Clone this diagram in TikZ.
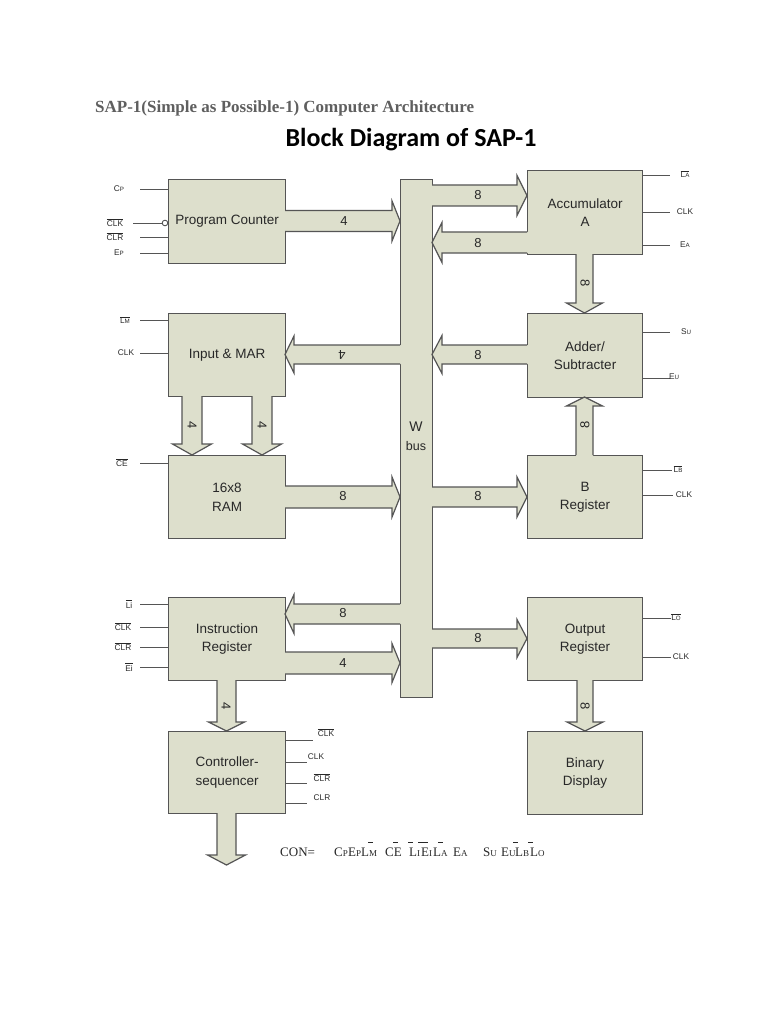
\documentclass[tikz,border=0pt]{standalone}
\usepackage{fontspec}
\setmainfont{Liberation Sans}
\newfontfamily\serifT{Liberation Serif}
\newfontfamily\calib{Carlito}
\definecolor{boxfill}{RGB}{221,223,204}
\definecolor{edge}{RGB}{85,85,85}
\definecolor{txt}{RGB}{40,40,40}
\definecolor{ttlgray}{RGB}{95,95,95}
\newcommand\ssb[1]{{\fontsize{6.2}{6}\selectfont #1}}
\newcommand\csb[1]{{\fontsize{9}{9}\selectfont #1}}
\newcommand\ovl[1]{$\overline{\mbox{#1}}$}
\newcommand\blkH[7]{%
 \fill[bfill] (#1,#5-#6) -- (#3,#5-#6) -- (#3,#5-#7) -- (#4,#5) -- (#3,#5+#7) -- (#3,#5+#6) -- (#1,#5+#6) -- cycle;
 \draw[bline] (#2,#5-#6) -- (#3,#5-#6) -- (#3,#5-#7) -- (#4,#5) -- (#3,#5+#7) -- (#3,#5+#6) -- (#2,#5+#6);}
\newcommand\blkV[7]{%
 \fill[bfill] (#5-#6,#1) -- (#5-#6,#3) -- (#5-#7,#3) -- (#5,#4) -- (#5+#7,#3) -- (#5+#6,#3) -- (#5+#6,#1) -- cycle;
 \draw[bline] (#5-#6,#2) -- (#5-#6,#3) -- (#5-#7,#3) -- (#5,#4) -- (#5+#7,#3) -- (#5+#6,#3) -- (#5+#6,#2);}
\tikzset{
 blk/.style={fill=boxfill, draw=edge, line width=1.2pt, inner sep=0pt, anchor=north west,
   font=\fontsize{13.5}{18.5}\selectfont, text=txt, align=center},
 bfill/.style={fill=boxfill},
 bline/.style={draw=edge, line width=1.2pt, line join=miter},
 wlabel/.style={font=\fontsize{13}{13}\selectfont, text=txt, inner sep=0pt},
 sig/.style={font=\fontsize{8.3}{8}\selectfont, text=txt, inner sep=0pt},
 sigline/.style={draw=edge, line width=0.9pt},
 contok/.style={font=\serifT\fontsize{13}{13}\selectfont, text=txt, inner sep=0pt, anchor=base west},
}
\begin{document}
\begin{tikzpicture}[x=1pt,y=-1pt]
\useasboundingbox (0,0) rectangle (768,1024);
\fill[white] (0,0) rectangle (768,1024);

% titles
\node[anchor=base west, inner sep=0pt, font=\serifT\bfseries\fontsize{17}{17}\selectfont, text=ttlgray] (title) at (95,113) {SAP-1(Simple as Possible-1) Computer Architecture};
\node[inner sep=0pt, font=\calib\bfseries\fontsize{26}{26}\selectfont] (subtitle) at (411,140) {Block Diagram of SAP-1};

% boxes
\node[blk, minimum width=117pt, minimum height=84pt] (pc) at (168,179) {Program Counter};
\node[blk, minimum width=117pt, minimum height=83pt] (mar) at (168,313) {Input \& MAR};
\node[blk, minimum width=117pt, minimum height=83pt] (ram) at (168,455) {16x8\\RAM};
\node[blk, minimum width=117pt, minimum height=83pt] (ir) at (168,597) {Instruction\\Register};
\node[blk, minimum width=117pt, minimum height=82pt] (cs) at (168,731) {Controller-\\sequencer};
\node[blk, minimum width=115pt, minimum height=84pt] (acc) at (527,170) {Accumulator\\A};
\node[blk, minimum width=115pt, minimum height=84pt] (add) at (527,313) {Adder/\\Subtracter};
\node[blk, minimum width=115pt, minimum height=83pt] (breg) at (527,455) {B\\Register};
\node[blk, minimum width=115pt, minimum height=83pt] (out) at (527,597) {Output\\Register};
\node[blk, minimum width=115pt, minimum height=83pt] (bin) at (527,731) {Binary\\Display};
\node[blk, minimum width=32pt, minimum height=518pt] (bus) at (400,179) {};
\node[inner sep=0pt, font=\fontsize{14}{14}\selectfont, text=txt] (wlab) at (416,427) {W};
\node[inner sep=0pt, font=\fontsize{12.5}{12.5}\selectfont, text=txt] (buslab) at (416,446) {bus};

% block arrows: fill-tail, outline-tail, head-base, tip, centre, shaft half, head half
\blkH{283}{285}{392}{400}{221}{10.5}{20}
\node[wlabel] (l1) at (344,221) {4};
\blkH{430}{432}{517}{527}{195.5}{10.5}{20}
\node[wlabel] (l2) at (478,195) {8};
\blkH{529}{527}{442}{432}{242.5}{10.5}{20}
\node[wlabel] (l3) at (478,243) {8};
\blkV{252}{254}{303}{313}{584.5}{8.5}{18}
\node[wlabel, rotate=-90] (l4) at (585,283) {8};
\blkH{529}{527}{442}{432}{354.5}{9.5}{19}
\node[wlabel] (l5) at (478,355) {8};
\blkH{402}{400}{294}{285}{354.5}{9.5}{18.5}
\node[wlabel, rotate=180] (l6) at (342,355) {4};
\blkV{394}{396}{444}{455}{192}{10}{19.5}
\node[wlabel, rotate=-90] (l7) at (192,425) {4};
\blkV{394}{396}{444}{455}{262}{10}{19.5}
\node[wlabel, rotate=-90] (l8) at (262,425) {4};
\blkH{283}{285}{392}{400}{497}{11}{20}
\node[wlabel] (l9) at (343,496) {8};
\blkV{457}{455}{406}{397}{584.5}{8.5}{18}
\node[wlabel, rotate=90] (l10) at (585,425) {8};
\blkH{430}{432}{517}{527}{497}{10}{20}
\node[wlabel] (l11) at (478,496) {8};
\blkH{402}{400}{294}{285}{614}{10}{19.5}
\node[wlabel] (l12) at (343,613) {8};
\blkH{283}{285}{392}{400}{663}{11}{19.5}
\node[wlabel] (l13) at (343,663) {4};
\blkH{430}{432}{517}{527}{638.5}{9.5}{19}
\node[wlabel] (l14) at (478,638) {8};
\blkV{678}{680}{722}{731}{585}{8}{18}
\node[wlabel, rotate=-90] (l15) at (585,706) {8};
\blkV{678}{680}{722}{731}{226.5}{9.5}{18}
\node[wlabel, rotate=-90] (l16) at (226,706) {4};
\blkV{811}{813}{855}{865}{226.5}{9.5}{19}

% left control signals
\node[sig] (cp) at (119,189) {C\ssb{P}};
\draw[sigline] (140,189) -- (168,189);
\node[sig] (pclk) at (115,223) {\ovl{CLK}};
\draw[sigline] (133,223) -- (162.2,223);
\draw[edge, line width=0.9pt, fill=white] (165,223) circle (2.8);
\node[sig] (pclr) at (115,237) {\ovl{CLR}};
\draw[sigline] (140,237) -- (168,237);
\node[sig] (ep) at (119,253) {E\ssb{P}};
\draw[sigline] (140,253) -- (168,253);

\node[sig] (lm) at (125,320) {\ovl{L\ssb{M}}};
\draw[sigline] (140,320) -- (168,320);
\node[sig] (mclk) at (126,353) {CLK};
\draw[sigline] (140,353) -- (168,353);

\node[sig] (ce) at (122,463) {\ovl{CE}};
\draw[sigline] (140,463) -- (168,463);

\node[sig] (li) at (129,604) {\ovl{Li}};
\draw[sigline] (140,604) -- (168,604);
\node[sig] (iclk) at (123,627) {\ovl{CLK}};
\draw[sigline] (140,627) -- (168,627);
\node[sig] (iclr) at (123,647) {\ovl{CLR}};
\draw[sigline] (140,647) -- (168,647);
\node[sig] (ei) at (129,667) {\ovl{Ei}};
\draw[sigline] (140,667) -- (168,667);

% controller outputs
\draw[sigline] (285,740) -- (313,740);
\node[sig] (cclkb) at (326,733) {\ovl{CLK}};
\draw[sigline] (285,762) -- (307,762);
\node[sig] (cclk) at (316,757) {CLK};
\draw[sigline] (285,783) -- (307,783);
\node[sig] (cclrb) at (322,778) {\ovl{CLR}};
\draw[sigline] (285,803) -- (307,803);
\node[sig] (cclr) at (322,798) {CLR};

% right control signals
\draw[sigline] (642,175) -- (670,175);
\node[sig] (la) at (685,174) {\ovl{L\ssb{A}}};
\draw[sigline] (642,212) -- (670,212);
\node[sig] (aclk) at (685,212) {CLK};
\draw[sigline] (642,245) -- (670,245);
\node[sig] (ea) at (685,245) {E\ssb{A}};

\draw[sigline] (642,332) -- (670,332);
\node[sig] (su) at (686,332) {S\ssb{U}};
\draw[sigline] (642,378) -- (670,378);
\node[sig] (eu) at (674,377) {E\ssb{U}};

\draw[sigline] (642,470) -- (672,470);
\node[sig] (lb) at (678,469) {\ovl{L\ssb{B}}};
\draw[sigline] (642,495) -- (673,495);
\node[sig] (bclk) at (684,495) {CLK};

\draw[sigline] (642,618) -- (671,618);
\node[sig] (lo) at (676,617) {\ovl{L\ssb{O}}};
\draw[sigline] (642,657) -- (671,657);
\node[sig] (oclk) at (681,657) {CLK};

% CON line
\node[contok] (con) at (280,856) {CON=};
\node[contok] (t1) at (334,856) {C\csb{P}};
\node[contok] (t2) at (348,856) {E\csb{P}};
\node[contok] (t3) at (361,856) {L\csb{M}};
\node[contok] (t4) at (385,856) {CE};
\node[contok] (t5) at (409,856) {L\csb{I}};
\node[contok] (t6) at (421,856) {E\csb{I}};
\node[contok] (t7) at (433,856) {L\csb{A}};
\node[contok] (t8) at (453,856) {E\csb{A}};
\node[contok] (t9) at (483,856) {S\csb{U}};
\node[contok] (t10) at (501,856) {E\csb{U}};
\node[contok] (t11) at (515,856) {L\csb{B}};
\node[contok] (t12) at (530,856) {L\csb{O}};
\foreach \a/\b in {368/373,393/398,408/413,418/428,438/443,513/518,528/533}
  \draw[txt, line width=0.6pt] (\a,842) -- (\b,842);
\end{tikzpicture}
\end{document}
